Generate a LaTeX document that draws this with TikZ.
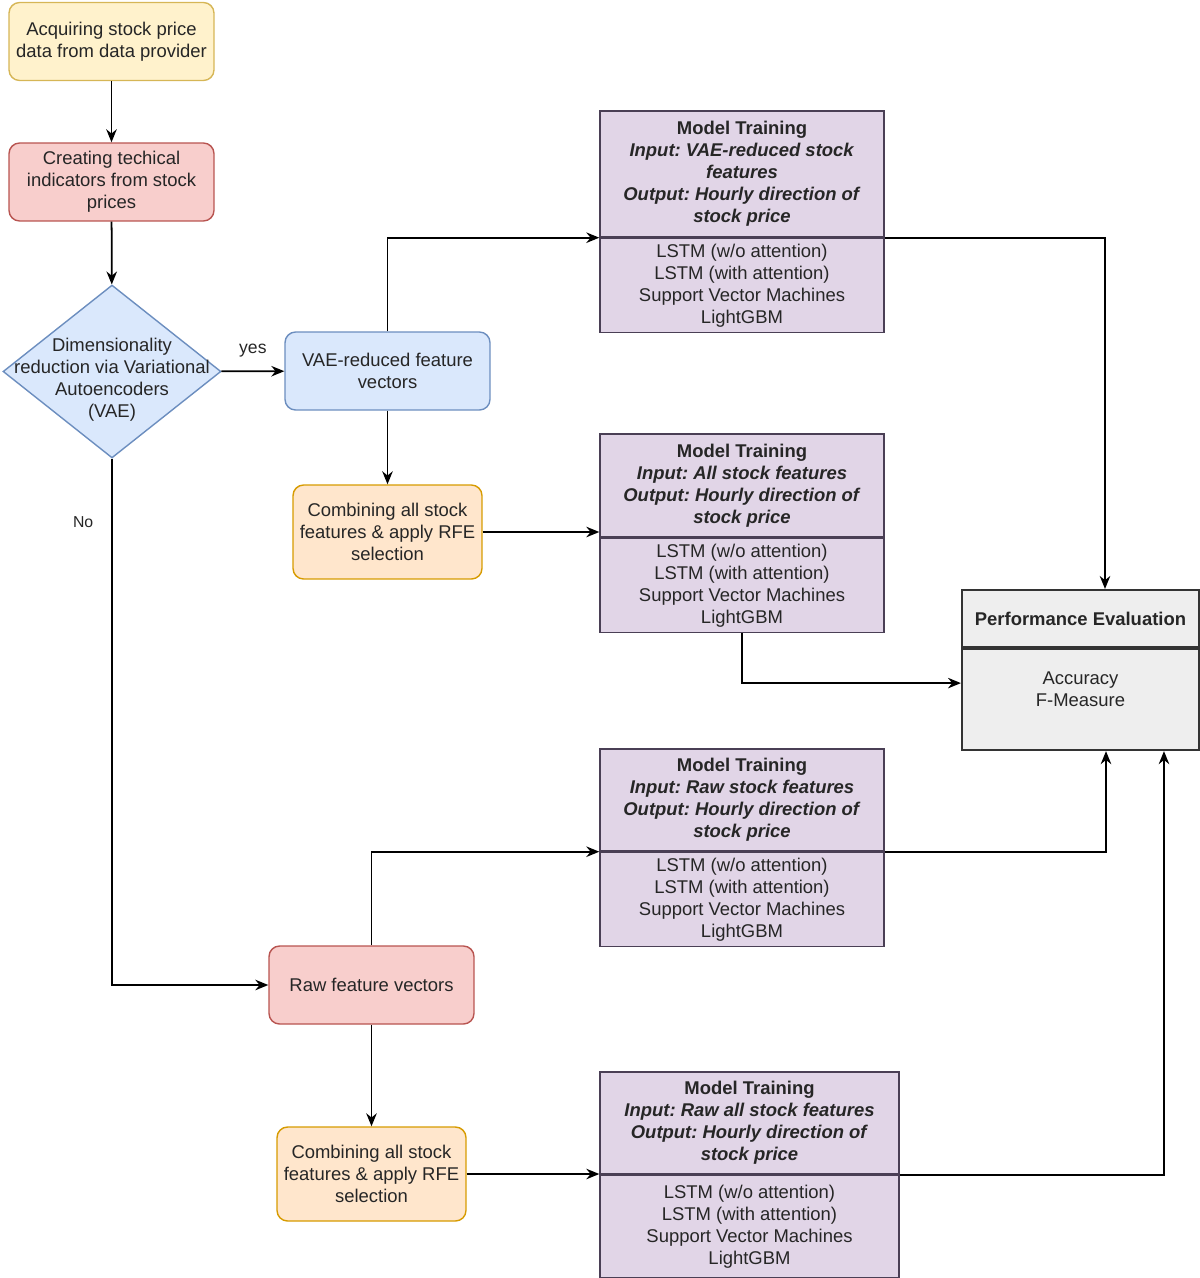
\documentclass[tikz,border=0pt]{standalone}
\usepackage{fontspec}
\setmainfont{Liberation Sans}
\usetikzlibrary{arrows.meta,positioning,shapes.geometric}
\definecolor{ylwFill}{HTML}{FFF2CC}
\definecolor{ylwLine}{HTML}{D6B656}
\definecolor{redFill}{HTML}{F8CECC}
\definecolor{redLine}{HTML}{B85450}
\definecolor{bluFill}{HTML}{DAE8FC}
\definecolor{bluLine}{HTML}{6C8EBF}
\definecolor{orgFill}{HTML}{FFE6CC}
\definecolor{orgLine}{HTML}{D79B00}
\definecolor{prpFill}{HTML}{E1D5E7}
\definecolor{prpLine}{HTML}{4A3F55}
\definecolor{evalFill}{HTML}{EEEEEE}
\definecolor{evalLine}{HTML}{333333}
\frenchspacing

\begin{document}
\begin{tikzpicture}[x=0.02cm,y=-0.02cm,every node/.style={font=\fontsize{10.5}{12.5}\selectfont,text=black!85},node distance=0pt]
      \tikzstyle{arr}=[-{Stealth[length=2.6mm,width=2.1mm]},line width=1pt]
      \tikzstyle{proc}=[rounded corners=6pt,line width=0.8pt,minimum width=4.1cm,
                        minimum height=1.56cm,align=center,inner sep=2pt]
      \tikzstyle{comb}=[proc,draw=orgLine,fill=orgFill,minimum width=3.78cm,minimum height=1.88cm]
      \tikzstyle{dec}=[diamond,draw=bluLine,fill=bluFill,line width=0.8pt,
                       minimum width=4.36cm,minimum height=3.46cm,inner sep=0pt]
      \tikzstyle{hd}=[draw=prpLine,fill=prpFill,line width=0.8pt,minimum width=5.68cm,
                      align=center,inner sep=0pt]
      \tikzstyle{bd}=[hd,minimum height=1.88cm]
      \tikzstyle{ev}=[draw=evalLine,fill=evalFill,line width=1.2pt,minimum width=4.74cm,
                      align=center,inner sep=0pt]
      \useasboundingbox (0,0) rectangle (1200,1278);
      \node[proc,draw=ylwLine,fill=ylwFill] (acq) at (111.5,41.5)
            {Acquiring stock price\\data from data provider};
      \node[proc,draw=redLine,fill=redFill] (tech) at (111.5,182)
            {Creating techical\\indicators from stock\\prices};
      \node[dec] (dim) at (112,371.5) {};
      \node[align=center] (dimtxt) at ([yshift=-0.16cm]dim)
            {Dimensionality\\reduction via Variational\\Autoencoders\\(VAE)};
      \node[proc,draw=bluLine,fill=bluFill] (vae) at (387.5,371) {VAE-reduced feature\\vectors};
      \node[comb] (comb1) at (387.5,532) {Combining all stock\\features \& apply RFE\\selection};
      \node[proc,draw=redLine,fill=redFill] (raw) at (371.5,985) {Raw feature vectors};
      \node[comb] (comb2) at (371.5,1174) {Combining all stock\\features \& apply RFE\\selection};
      \node[hd,minimum height=2.52cm] (mt1h) at (742,174)
            {\textbf{Model Training}\\\textbf{\textit{Input: VAE-reduced stock}}\\\textbf{\textit{features}}\\
             \textbf{\textit{Output: Hourly direction of}}\\\textbf{\textit{stock price}}};
      \node[bd,below=of mt1h] (mt1b)
            {LSTM (w/o attention)\\LSTM (with attention)\\Support Vector Machines\\LightGBM};
      \node[hd,minimum height=2.06cm] (mt2h) at (742,485.5)
            {\textbf{Model Training}\\\textbf{\textit{Input: All stock features}}\\
             \textbf{\textit{Output: Hourly direction of}}\\\textbf{\textit{stock price}}};
      \node[bd,below=of mt2h] (mt2b)
            {LSTM (w/o attention)\\LSTM (with attention)\\Support Vector Machines\\LightGBM};
      \node[hd,minimum height=2.04cm] (mt3h) at (742,800)
            {\textbf{Model Training}\\\textbf{\textit{Input: Raw stock features}}\\
             \textbf{\textit{Output: Hourly direction of}}\\\textbf{\textit{stock price}}};
      \node[bd,below=of mt3h] (mt3b)
            {LSTM (w/o attention)\\LSTM (with attention)\\Support Vector Machines\\LightGBM};
      \node[hd,minimum height=2.04cm,minimum width=5.98cm] (mt4h) at (749.5,1123)
            {\textbf{Model Training}\\\textbf{\textit{Input: Raw all stock features}}\\
             \textbf{\textit{Output: Hourly direction of}}\\\textbf{\textit{stock price}}};
      \node[bd,below=of mt4h,minimum height=2.04cm,minimum width=5.98cm] (mt4b)
            {LSTM (w/o attention)\\LSTM (with attention)\\Support Vector Machines\\LightGBM};
      \node[ev,minimum height=1.14cm] (evh) at (1080.5,618.5) {\textbf{Performance Evaluation}};
      \node[ev,below=of evh,minimum height=2.02cm] (evb) {};
      \node[align=center,below=3.6mm of evb.north] (evtxt) {Accuracy\\F-Measure};
      \draw[arr] (acq) -- (tech);
      \draw[arr] (tech) -- (dim);
      \draw[arr] (dim) -- node[above=1.5mm,font=\fontsize{10}{12}\selectfont]{yes} (vae);
      \draw[arr] (dim.south) |- node[pos=0.06,left=2.4mm,font=\fontsize{9}{11}\selectfont]{No} (raw.west);
      \draw[arr] (vae.north) |- (mt1h.south west);
      \draw[arr] (vae) -- (comb1);
      \draw[arr] (comb1.east) -- (comb1 -| mt2h.west);
      \draw[arr] (mt1h.south east) -| ([xshift=0.49cm]evh.north);
      \draw[arr] (mt2b.south) |- ([yshift=0.33cm]evb.west);
      \draw[arr] (raw.north) |- (mt3h.south west);
      \draw[arr] (mt3h.south east) -| ([xshift=0.51cm]evb.south);
      \draw[arr] (raw) -- (comb2);
      \draw[arr] (comb2.east) -- (comb2 -| mt4h.west);
      \draw[arr] (mt4h.south east) -| ([xshift=1.67cm]evb.south);
    \end{tikzpicture}
\end{document}
